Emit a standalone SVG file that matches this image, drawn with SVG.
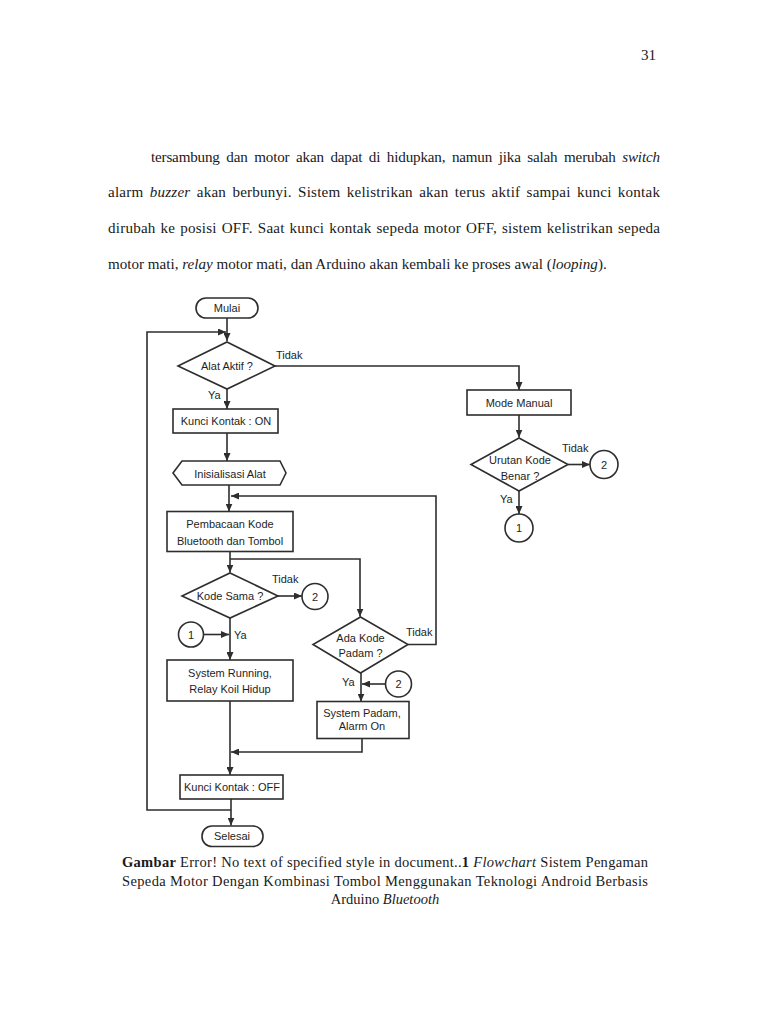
<svg xmlns="http://www.w3.org/2000/svg" width="768" height="1024" viewBox="0 0 768 1024">
<style>
.body{font-family:"Liberation Serif","Times New Roman",serif;font-size:15.1px;fill:#1a1a1a}
.cap{font-family:"Liberation Serif","Times New Roman",serif;font-size:14.5px;fill:#1a1a1a}
.shape{fill:#fff;stroke:#2e2e2e;stroke-width:1.6}
.lbl{font-family:"Liberation Sans",Arial,sans-serif;font-size:11px;fill:#1e1e1e;text-anchor:middle}
.edge{font-family:"Liberation Sans",Arial,sans-serif;font-size:11px;fill:#1e1e1e}
.conn{fill:none;stroke:#2e2e2e;stroke-width:1.6}
</style>
<defs>
<marker id="arr" markerUnits="userSpaceOnUse" markerWidth="8" markerHeight="7" refX="8" refY="3.5" orient="auto">
<path d="M0,0 L8,3.5 L0,7 z" fill="#2e2e2e"/>
</marker>
</defs>
<rect x="0" y="0" width="768" height="1024" fill="#fff"/>

<text x="656" y="60" class="body" text-anchor="end" font-size="14">31</text>

<text x="151" y="162" class="body" word-spacing="3" textLength="509" lengthAdjust="spacing">tersambung dan motor akan dapat di hidupkan, namun jika salah merubah <tspan font-style="italic">switch</tspan></text>
<text x="108" y="197" class="body" word-spacing="2.3" textLength="552" lengthAdjust="spacing">alarm <tspan font-style="italic">buzzer</tspan> akan berbunyi. Sistem kelistrikan akan terus aktif sampai kunci kontak</text>
<text x="108" y="233" class="body" word-spacing="1" textLength="552" lengthAdjust="spacing">dirubah ke posisi OFF. Saat kunci kontak sepeda motor OFF, sistem kelistrikan sepeda</text>
<text x="108" y="269" class="body">motor mati, <tspan font-style="italic">relay</tspan> motor mati, dan Arduino akan kembali ke proses awal (<tspan font-style="italic">looping</tspan>).</text>

<g id="connectors">
<path class="conn" d="M227,318 V341" marker-end="url(#arr)"/>
<path class="conn" d="M231,810 H147 V332 H226" marker-end="url(#arr)"/>
<path class="conn" d="M275,366 H519 V390" marker-end="url(#arr)"/>
<path class="conn" d="M227,389 V409" marker-end="url(#arr)"/>
<path class="conn" d="M227,433 V461" marker-end="url(#arr)"/>
<path class="conn" d="M229,485 V511.5" marker-end="url(#arr)"/>
<path class="conn" d="M408,644.5 H436 V496 H231" marker-end="url(#arr)"/>
<path class="conn" d="M230,551.5 V572.5" marker-end="url(#arr)"/>
<path class="conn" d="M230,559 H360 V616.5" marker-end="url(#arr)"/>
<path class="conn" d="M278,596 H302" marker-end="url(#arr)"/>
<path class="conn" d="M230,618 V660" marker-end="url(#arr)"/>
<path class="conn" d="M203.5,634.5 H229" marker-end="url(#arr)"/>
<path class="conn" d="M519,415 V437.5" marker-end="url(#arr)"/>
<path class="conn" d="M568,464.5 H590" marker-end="url(#arr)"/>
<path class="conn" d="M519,491 V514" marker-end="url(#arr)"/>
<path class="conn" d="M361,673 V701.5" marker-end="url(#arr)"/>
<path class="conn" d="M385,684 H362" marker-end="url(#arr)"/>
<path class="conn" d="M230,701 V775" marker-end="url(#arr)"/>
<path class="conn" d="M362,739 V752 H231" marker-end="url(#arr)"/>
<path class="conn" d="M231,799 V825.5" marker-end="url(#arr)"/>
</g>

<g id="edge-labels">
<text class="edge" x="276" y="359">Tidak</text>
<text class="edge" x="208" y="399">Ya</text>
<text class="edge" x="562" y="452">Tidak</text>
<text class="edge" x="500" y="503">Ya</text>
<text class="edge" x="272" y="583">Tidak</text>
<text class="edge" x="234" y="639">Ya</text>
<text class="edge" x="406" y="636">Tidak</text>
<text class="edge" x="342" y="686">Ya</text>
</g>

<g id="mulai">
<rect class="shape" x="196" y="298" width="62" height="20" rx="10"/>
<text class="lbl" x="227" y="312">Mulai</text>
</g>
<g id="alat-aktif">
<polygon class="shape" points="227,342 275,366 227,389 178,366"/>
<text class="lbl" x="227" y="369.5">Alat Aktif ?</text>
</g>
<g id="kunci-on">
<rect class="shape" x="173" y="409" width="105" height="24"/>
<text class="lbl" x="226" y="425">Kunci Kontak : ON</text>
</g>
<g id="inisialisasi">
<polygon class="shape" points="173,473 182,461 280,461 286,473 280,485 182,485"/>
<text class="lbl" x="230" y="477.5">Inisialisasi Alat</text>
</g>
<g id="mode-manual">
<rect class="shape" x="467" y="390" width="104" height="25"/>
<text class="lbl" x="519" y="407">Mode Manual</text>
</g>
<g id="urutan-kode">
<polygon class="shape" points="519,438 568,464.5 519,491 471,464.5"/>
<text class="lbl" x="520" y="464">Urutan Kode</text>
<text class="lbl" x="520" y="480">Benar ?</text>
</g>
<g id="conn-2-right">
<circle class="shape" cx="604" cy="464.5" r="14"/>
<text class="lbl" x="604" y="468.5">2</text>
</g>
<g id="conn-1-right">
<circle class="shape" cx="519" cy="528" r="14"/>
<text class="lbl" x="519" y="532">1</text>
</g>
<g id="pembacaan">
<rect class="shape" x="167" y="511.5" width="126" height="40"/>
<text class="lbl" x="230" y="528">Pembacaan Kode</text>
<text class="lbl" x="230" y="544.5">Bluetooth dan Tombol</text>
</g>
<g id="kode-sama">
<polygon class="shape" points="230,573 278,596 230,618 182,596"/>
<text class="lbl" x="230" y="600">Kode Sama ?</text>
</g>
<g id="conn-2-mid">
<circle class="shape" cx="315" cy="596.5" r="13"/>
<text class="lbl" x="315" y="600.5">2</text>
</g>
<g id="conn-1-left">
<circle class="shape" cx="191" cy="634.5" r="12.5"/>
<text class="lbl" x="191" y="638.5">1</text>
</g>
<g id="ada-kode">
<polygon class="shape" points="360.5,617 408,644.5 360.5,673 313,644.5"/>
<text class="lbl" x="360.5" y="642">Ada Kode</text>
<text class="lbl" x="360.5" y="657">Padam ?</text>
</g>
<g id="system-running">
<rect class="shape" x="167" y="660" width="126" height="41"/>
<text class="lbl" x="230" y="676.5">System Running,</text>
<text class="lbl" x="230" y="693">Relay Koil Hidup</text>
</g>
<g id="conn-2-low">
<circle class="shape" cx="398.5" cy="684" r="13"/>
<text class="lbl" x="398.5" y="688">2</text>
</g>
<g id="system-padam">
<rect class="shape" x="317" y="701.5" width="92" height="37"/>
<text class="lbl" x="362" y="716.5">System Padam,</text>
<text class="lbl" x="362" y="730">Alarm On</text>
</g>
<g id="kunci-off">
<rect class="shape" x="180" y="775" width="103" height="24"/>
<text class="lbl" x="232" y="790.5">Kunci Kontak : OFF</text>
</g>
<g id="selesai">
<rect class="shape" x="202" y="826" width="61" height="20.5" rx="10"/>
<text class="lbl" x="232" y="840">Selesai</text>
</g>

<text class="cap" x="122" y="867" textLength="526" lengthAdjust="spacing"><tspan font-weight="bold">Gambar</tspan> Error! No text of specified style in document..<tspan font-weight="bold">1</tspan> <tspan font-style="italic">Flowchart</tspan> Sistem Pengaman</text>
<text class="cap" x="122" y="886" textLength="526" lengthAdjust="spacing">Sepeda Motor Dengan Kombinasi Tombol Menggunakan Teknologi Android Berbasis</text>
<text class="cap" x="385" y="904" text-anchor="middle">Arduino <tspan font-style="italic">Bluetooth</tspan></text>
</svg>
